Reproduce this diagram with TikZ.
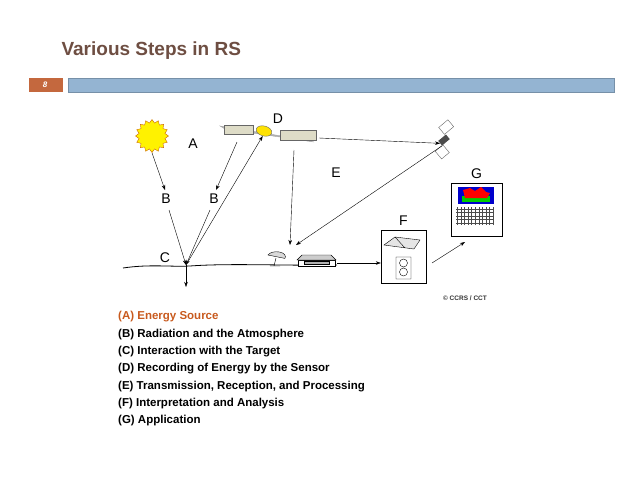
\documentclass[tikz,border=0pt]{standalone}
\usepackage{fontspec}
\setmainfont{Liberation Sans}
\usetikzlibrary{arrows.meta,positioning,shapes.geometric}
\definecolor{titlebrown}{RGB}{110,78,66}
\definecolor{barblue}{RGB}{148,180,210}
\definecolor{boxorange}{RGB}{196,104,62}
\definecolor{srcorange}{RGB}{200,90,30}
\tikzset{
  ray/.style={-{Stealth[length=5pt,width=3.5pt]},thin},
  letter/.style={font=\fontsize{14}{14}\selectfont},
  item/.style={font=\fontsize{11.5}{13}\bfseries,anchor=west,inner sep=0pt},
  panel/.style={draw=black!60,fill=yellow!25!gray!40,thin},
}
\begin{document}
\begin{tikzpicture}[x=1pt,y=-1pt]
  \useasboundingbox (0,0) rectangle (638,493);
  \node[anchor=west,text=titlebrown,font=\fontsize{19}{19}\bfseries] (title) at (58,51) {Various Steps in RS};
  \fill[boxorange] (29,78) rectangle (63,92);
  \node[text=white,font=\fontsize{8}{8}\bfseries\itshape] (num) at (45,85) {8};
  \fill[barblue,draw=barblue!80!black] (68,78) rectangle (614,92);
  % sun
  \node[star,star points=16,star point ratio=1.25,fill=yellow,draw=orange!80!black,minimum size=33pt,inner sep=0pt] (sun) at (152,136) {};
  \node[letter] (A) at (193,144) {A};
  % satellite D
  \draw[gray!70,fill=gray!60] (220,126) -- (300,139) -- (314,142) -- (225,129) -- cycle;
  \draw[panel] (224,125) rectangle (253,134);
  \draw[panel] (280,130) rectangle (316,140);
  \node[ellipse,fill=yellow!85!orange,draw=black!60,minimum width=16pt,minimum height=10pt,inner sep=0pt,rotate=-15] (satD) at (264,131) {};
  \node[letter] (D) at (278,119) {D};
  % relay satellite
  \node[fill=black!70,minimum width=10pt,minimum height=6pt,inner sep=0pt,rotate=40] (sat2) at (444,140) {};
  \draw[black!60,rotate around={40:(444,140)}] (448,127) rectangle (460,136) (430,143) rectangle (440,153);
  \node[letter] (E) at (336,173) {E};
  % ground
  \draw[thick] (123,268) .. controls (150,264) and (170,267) .. (190,266) .. controls (230,263) and (290,266) .. (337,265);
  \node[letter] (C) at (165,258) {C};
  \coordinate (hit) at (186,265);
  % dish and building
  \draw[fill=gray!30] (268,255) arc (200:380:9 and 5) -- cycle;
  \draw (276,258) -- (274,266) (270,266) -- (280,266);
  \coordinate (dish) at (290,245);
  \draw[fill=white] (298,260) rectangle (335,266);
  \draw[fill=gray!40] (297,260) -- (302,255) -- (331,255) -- (336,260) -- cycle;
  \draw[fill=gray!60] (304,261.5) rectangle (329,264.5);
  % F and G boxes
  \node[draw,minimum width=45pt,minimum height=53pt,inner sep=0pt] (Fbox) at (403.5,257) {};
  \node[letter,above=1pt of Fbox] (F) {F};
  \draw[fill=gray!20] (384,245) -- (395,237) -- (420,240) -- (414,249) -- cycle (395,237) -- (405,248);
  \draw (396,257) rectangle (411,279) (403.5,263) circle (4) (403.5,272) circle (4);
  \node[draw,minimum width=51pt,minimum height=53pt,inner sep=0pt] (Gbox) at (476.5,210) {};
  \node[letter,above=1pt of Gbox] (G) {G};
  \fill[blue!80!black] (458,187) rectangle (494,204);
  \fill[green!80!black] (462,196) rectangle (490,202);
  \fill[red] (463,190) -- (470,188) -- (475,191) -- (481,187) -- (486,192) -- (490,193) -- (487,198) -- (465,198) -- cycle;
  \draw[step=3.6pt,black!70,thin] (456,207) grid (494,225);
  % rays
  \draw[ray] (sun.south) -- (165,190) coordinate (b1);
  \node[letter] (B1) at (166,199) {B};
  \draw[ray] (169,210) -- (hit);
  \draw[ray] (237,142) -- (216,190);
  \node[letter] (B2) at (214,199) {B};
  \draw[ray] (210,210) -- (hit);
  \draw[ray] (hit) -- (satD.south);
  \draw[ray] (hit) -- ++(0,22) coordinate (down);
  \draw[ray] (294,150) -- (dish);
  \draw[ray] (319,138) -- (sat2.west);
  \draw[ray] (sat2.south west) -- (296,245);
  \draw[ray] (337,263) -- (Fbox.west |- 0,263);
  \draw[ray] (432,263) -- (465,242);
  \node[font=\fontsize{6.5}{7}\bfseries,text=black!80] (copy) at (465,298) {\textcopyright{} CCRS / CCT};
  % legend
  \node[item,text=srcorange] (l1) at (118,317) {(A) Energy Source};
  \foreach \t [count=\i] in {(B) Radiation and the Atmosphere,(C) Interaction with the Target,(D) Recording of Energy by the Sensor,{(E) Transmission, Reception, and Processing},(F) Interpretation and Analysis,(G) Application}
    \node[item] (l\i b) at (118,317+17.3*\i) {\t};
\end{tikzpicture}
\end{document}
